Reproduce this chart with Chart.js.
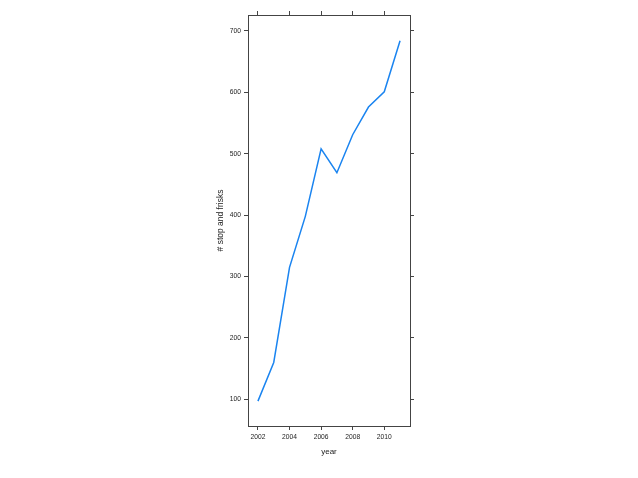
<!DOCTYPE html>
<html><head><meta charset="utf-8">
<script src="https://cdn.jsdelivr.net/npm/chart.js@4/dist/chart.umd.min.js"></script>
<style>html,body{margin:0;padding:0;background:#fff}#wrap{width:638px;height:478px}</style>
</head><body><div id="wrap"><canvas id="c" width="638" height="478"></canvas></div>
<script>
const years = [2002,2003,2004,2005,2006,2007,2008,2009,2010,2011];
const stops = [97,160,315,398,508,469,531,576,601,684];
const xTicks = [2002,2004,2006,2008,2010];
const yTicks = [100,200,300,400,500,600,700];

const FONT = 'Liberation Sans, Arial, sans-serif';
const axisCol = '#444';
function setTicks(vals){ return s => { s.ticks = vals.map(v => ({value:v})); }; }
const grid = {drawOnChartArea:false, drawTicks:true, tickLength:4, color:axisCol, lineWidth:1};
const border = {display:true, color:axisCol, width:1};

new Chart(document.getElementById('c'), {
  type:'line',
  data:{ datasets:[{ data: years.map((y,i)=>({x:y,y:stops[i]})), borderColor:'#1a84f0', borderWidth:1.5, pointRadius:0, fill:false, tension:0 }]},
  options:{
    responsive:false, animation:false, devicePixelRatio:1,
    layout:{padding:{left:216,right:223,top:0,bottom:0}},
    plugins:{legend:{display:false}, tooltip:{enabled:false}},
    scales:{
      x:{type:'linear', position:'bottom', min:2001.37, max:2011.63,
         afterBuildTicks:setTicks(xTicks), afterFit:s=>{s.height=52;},
         grid, border,
         ticks:{font:{family:FONT,size:6.7}, color:'#222', padding:3, maxRotation:0, autoSkip:false, callback:v=>String(v)},
         title:{display:true, text:'year', font:{family:FONT,size:8}, color:'#222', padding:{top:0,bottom:21}}},
      x2:{type:'linear', position:'top', min:2001.37, max:2011.63,
         afterBuildTicks:setTicks(xTicks), afterFit:s=>{s.height=15;},
         grid, border, ticks:{display:false}},
      y:{type:'linear', position:'left', min:56.5, max:726,
         afterBuildTicks:setTicks(yTicks), afterFit:s=>{s.width=32;},
         grid, border,
         ticks:{font:{family:FONT,size:6.7}, color:'#222', padding:3, autoSkip:false, callback:v=>String(v)},
         title:{display:true, text:'# stop and frisks', font:{family:FONT,size:8.5}, color:'#222', padding:{top:0,bottom:0}}},
      y2:{type:'linear', position:'right', min:56.5, max:726,
         afterBuildTicks:setTicks(yTicks), afterFit:s=>{s.width=5;},
         grid, border, ticks:{display:false}}
    }
  }
});
</script></body></html>
